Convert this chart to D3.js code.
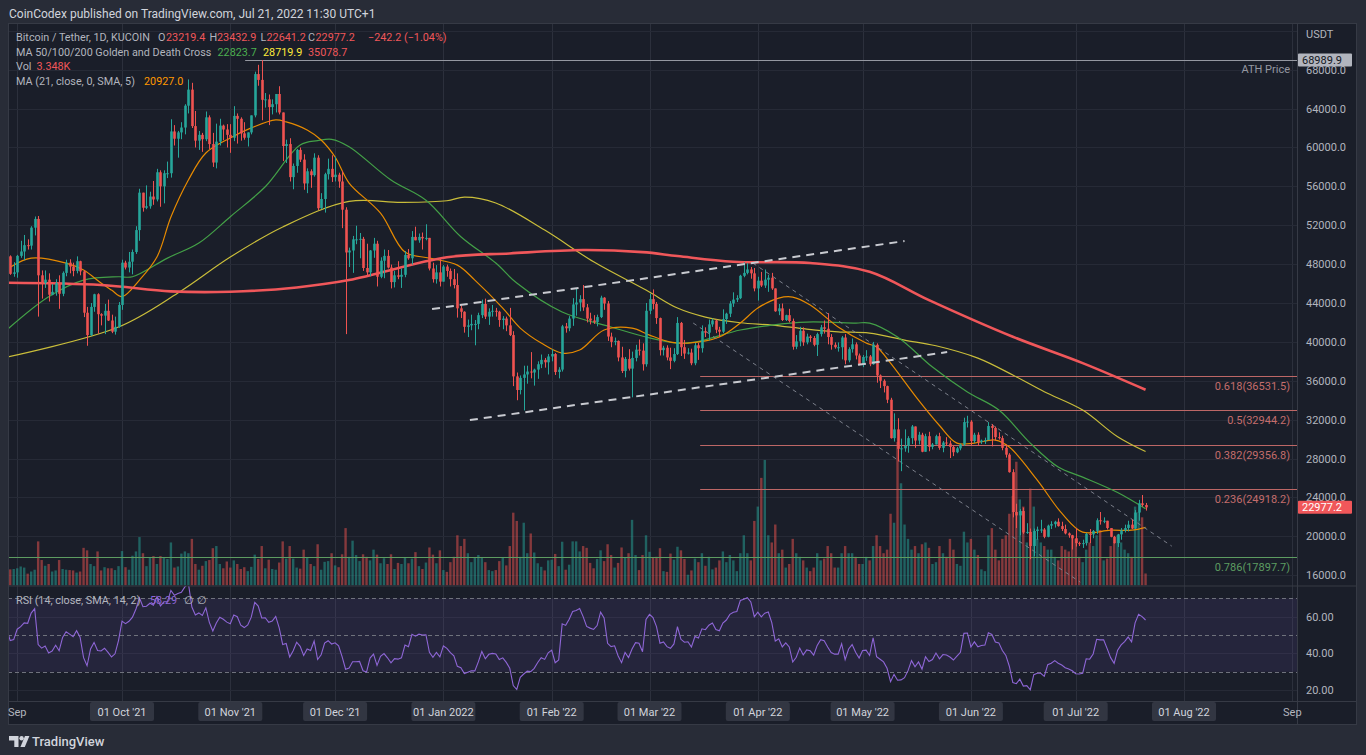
<!DOCTYPE html>
<html><head><meta charset="utf-8">
<script src="https://cdn.jsdelivr.net/npm/d3@7"></script>
<style>
html,body{margin:0;padding:0;background:#282c37;overflow:hidden;}
svg{display:block;font-family:Roboto,"Liberation Sans",sans-serif;}
</style></head><body>
<svg id="c" width="1366" height="755"></svg>
<script>
// ---------------- DATA ----------------
const firstDay = "2021-08-29";
const firstOpen = 48900;
const closes = [
48800,47000,47150,
48850,49300,49950,49900,51750,52650,46850,46050,46400,44850,45150,46050,44950,47100,48150,47750,47300,48300,47250,43000,40700,43600,44900,42850,42700,43200,42200,41050,41550,43800,
48150,47650,48250,49250,51500,55350,53800,53950,54950,54650,57450,56000,57350,57350,61650,60900,61550,62050,64300,65950,62200,60700,61300,60850,63100,60350,58450,60600,62250,61850,61300,
61000,63250,62950,61450,61000,61550,63300,67550,66950,64900,64950,64150,64450,65500,63600,60150,60350,56950,58100,59750,58750,56300,57550,57150,58950,53750,54700,57250,57800,56950,
57200,56500,53600,49200,49400,50550,50550,50600,47600,47150,49400,50100,46700,48350,48850,47650,46150,46850,46700,46900,48950,48600,50800,50450,50800,50650,50700,47550,46450,47150,46200,
47750,47300,46450,45850,43450,43100,41550,41700,41850,41850,42750,43900,42600,43100,43200,43100,42250,42400,41700,40700,36450,35050,36300,36650,36950,36850,37150,37700,38150,37900,38500,
38750,36900,37150,41600,41400,42400,43850,44050,44400,43550,42400,42200,42050,42550,44550,43950,40550,40000,40100,38400,37000,38250,37250,38350,39200,39100,37700,43200,
44400,43900,42450,39150,39400,38400,38050,38750,41950,39450,38800,38900,37800,39650,39350,41100,40950,41800,42200,41250,41050,42350,42900,43950,44350,44500,46800,47100,47450,47050,45500,
46300,45800,46400,46600,45500,43150,43450,42250,42750,42150,39500,40050,41150,39950,40550,40400,39700,40800,41500,41350,40500,39700,39450,39450,40450,38100,39250,39750,38600,37650,
38450,38500,37700,39700,36550,36000,35450,34050,30100,31000,29000,29050,29300,30100,31300,29850,30450,28700,30300,29200,29450,30300,29100,29650,29550,29200,28650,29050,29450,31750,31800,
29800,30450,29700,29850,29900,31350,31150,30200,30100,29100,28400,26600,22500,22150,22600,20400,20450,19000,20550,20700,20700,19950,21100,21250,21500,21050,20750,20300,20100,19800,
19300,19250,19300,20250,20200,20550,21650,21600,21600,20850,19950,19300,20200,20600,20850,21200,20800,22450,23400,23219.4,22977.2
];
const highs = [
49600,48900,48200,
48950,50400,51000,50550,51900,52900,52950,47350,47350,47050,45950,46450,46850,47250,48450,48500,48150,48800,48350,47350,43600,44000,44950,45000,42950,43900,44350,42800,42600,44100,
48450,48350,49250,49500,51900,55750,55350,56100,55450,56550,57800,57650,57650,58550,62900,62300,61700,62600,64450,67000,66650,63750,61700,61500,63700,63300,61500,62450,62950,62350,62400,
62400,64250,63500,63100,62600,61550,63300,67800,68500,68990,65600,65450,64950,65500,66300,63600,60800,60950,58350,59850,60000,59300,57850,57750,59400,59200,55300,57400,58850,59200,
59050,57400,57600,53850,49700,50900,51950,51200,50800,50100,49450,50700,50400,48700,49500,49450,47950,47300,48300,47550,49350,49550,51400,51850,51150,51250,52100,50700,48150,47900,48550,
47900,47950,47550,47500,47050,43750,43150,42300,42800,42250,43000,44350,44450,43450,43800,43500,43200,42650,42600,43500,41100,36850,36550,37550,37550,38950,37250,38000,38700,38350,38750,
39250,38850,37400,41750,41950,42650,44500,45500,44800,45850,43900,43000,42750,42800,44750,44600,44200,40950,40450,40150,39500,38450,39250,39000,39700,40250,39850,44000,
44950,45400,44100,42500,39600,39650,39400,39350,42550,42050,40200,39350,39300,39900,39900,41700,41500,42300,42400,42300,41550,43350,43000,44200,45100,44800,46900,48200,48100,47700,47600,
46700,47200,47450,46900,47100,45500,43900,43950,42800,43400,42400,40700,41550,41500,40850,40700,40600,40950,41750,42200,42950,40800,39950,39950,40600,40800,39450,40350,39950,38800,
38650,39150,38650,40000,39850,36650,36150,35500,34250,32650,32150,30050,31000,30300,31450,31300,30750,30650,30550,30750,29600,30450,30650,29800,30200,29850,29350,29200,29550,32200,32400,
31950,30650,30700,29950,30150,31750,31550,31300,30700,30350,29450,28550,26900,23350,22800,22950,21350,20800,20800,21000,21700,20850,21200,21550,21600,21850,21500,21200,20400,20150,
20850,19450,19650,20350,20750,20650,21850,22500,21950,21600,20850,20050,20250,20850,21200,21600,21700,22700,23750,24250,23432.9
];
const lows = [
48100,46900,46700,
46600,48650,48400,49500,49500,50950,42600,44450,45550,44150,44800,44750,43400,44700,46750,47050,46750,47050,46850,42550,39600,40600,43100,40850,41700,40800,42150,40900,40750,41450,
43300,47450,47150,46950,49050,50400,53400,53650,53700,54100,54450,53900,54250,56850,56900,60200,58950,60850,61350,63500,62000,60000,59750,59550,60650,59850,58000,57850,60200,60750,60000,
59450,60650,60400,60700,60800,60100,61350,63100,66350,62800,64100,62300,63400,63600,63400,58600,58400,56500,55700,57400,58500,55650,55300,55850,57000,53550,53650,53300,56700,56450,
56500,55850,51700,40800,47700,47100,50050,48600,47300,46850,46750,48650,45700,46550,46550,47550,45500,45600,46450,45550,46650,48450,47950,50450,50200,49500,50450,47350,46100,46000,45700,
46200,46700,45700,45500,42500,42450,40950,40500,41200,39650,41300,42450,42350,41750,42600,42600,41550,41300,41100,40600,35450,34000,34600,32950,35700,36250,35500,36200,37300,37350,36650,
38000,36600,36250,36950,40950,41100,41650,42700,43150,43200,42000,41800,41850,41600,42450,43300,40100,39450,39650,38000,36800,36350,37050,34300,38000,38600,37050,37450,
42850,43350,41850,38600,38600,38100,37200,37900,38650,38550,38250,38700,37600,37600,38150,38900,40500,40150,41550,40900,40500,40900,41850,42550,43600,44100,44400,46650,46950,46500,45200,
44250,45650,45550,45150,45350,43100,42750,42150,42150,42000,39200,39250,39550,39600,39750,40000,39550,38550,40550,40850,39750,39200,39300,39000,38200,37700,37900,38900,38200,37600,
37400,38050,37500,37650,35800,35250,34800,33700,30050,29750,27700,26700,28700,28600,29500,29100,29450,28650,28700,28750,28950,29450,28900,28650,29300,28050,28250,28550,28850,29300,31200,
29350,29600,29300,29500,29500,29900,29250,29850,29950,28850,28100,26550,21950,20850,20100,20250,20250,17650,17950,19650,20350,19800,19900,20750,20900,21000,20550,20200,19850,18650,
18950,19000,18800,19050,19300,19800,20250,21200,21350,20700,19900,19250,18900,19650,20400,20500,20750,20750,21600,23050,22641.2
];
// volume in thousands of BTC
const volumes = [
5.1,4.5,4.6,
4.8,5.3,5.0,3.3,3.9,4.4,12.3,7.1,5.5,6.0,3.9,4.2,7.1,4.6,4.4,4.3,4.2,3.6,3.9,10.5,9.8,6.0,5.4,9.5,4.2,5.1,4.8,4.8,4.3,5.4,
9.6,5.1,4.4,8.3,9.5,13.5,9.0,5.4,7.7,8.2,6.0,8.2,7.9,7.4,12.0,5.0,5.3,8.9,9.5,9.0,13.0,6.0,4.4,5.5,6.8,7.1,10.4,11.0,6.0,4.8,6.7,
5.0,7.0,6.0,4.6,5.1,4.0,5.2,8.6,7.4,11.0,4.8,7.2,4.6,4.4,6.4,12.3,7.5,11.0,7.5,5.0,4.7,10.0,7.8,6.0,5.4,11.5,4.4,6.6,6.8,9.0,
5.6,5.1,8.7,16.0,8.0,12.5,8.5,6.8,8.7,8.0,7.0,10.0,8.6,6.2,7.6,6.0,8.7,4.6,6.3,6.0,7.8,6.2,7.5,9.3,5.4,4.6,6.4,10.6,8.6,6.2,9.8,
4.3,3.8,6.5,8.0,14.0,11.0,13.0,9.0,6.5,7.8,8.5,7.8,6.5,4.3,4.0,4.3,6.8,7.8,5.6,11.0,20.3,18.0,8.0,17.5,9.0,14.5,9.2,6.2,5.2,4.2,7.0,
7.2,8.8,5.4,12.2,4.4,5.8,12.3,12.3,9.5,11.0,10.5,6.3,4.8,7.4,9.8,6.8,11.5,8.5,5.0,6.3,10.6,7.7,9.0,18.3,8.5,4.3,8.5,14.0,
9.4,7.8,8.0,10.4,4.0,3.8,8.9,7.2,10.8,9.8,7.4,3.0,4.2,7.5,6.5,9.0,5.5,8.0,4.5,5.0,7.0,9.5,6.5,8.5,7.0,4.0,9.0,14.0,9.0,7.0,18.0,
22.0,30.0,35.0,14.0,12.0,17.0,9.0,10.0,5.0,6.0,13.0,9.0,8.0,7.0,5.0,4.0,5.0,9.0,7.0,7.5,11.0,9.0,5.0,5.0,9.0,11.0,9.0,9.0,8.0,6.0,
6.0,8.0,7.0,11.0,14.0,11.0,9.0,10.0,20.0,17.5,40.0,28.5,17.0,13.0,10.0,11.0,9.0,11.5,12.0,10.5,6.0,6.5,11.0,9.0,8.0,13.0,10.0,6.0,5.5,15.0,12.0,
13.0,10.0,8.5,4.5,4.0,14.0,16.0,10.0,7.0,13.0,14.0,20.0,25.0,34.5,24.0,22.0,12.0,27.0,22.0,13.0,12.0,11.0,10.0,10.0,8.0,7.0,11.0,10.0,9.5,14.0,
13.0,8.0,6.5,10.0,12.0,11.0,14.0,15.5,7.0,7.5,11.0,12.0,14.0,12.0,10.0,9.0,8.0,22.0,20.5,19.0,3.348
];
// closes Aug 13 - Aug 28 2021, used only to start the RSI
const warmupCloses = [47800,47050,47100,45950,44700,44800,46700,49300,48900,49300,49550,47700,48950,46850,49050,48900];

const ma21Pts = [["2021-08-30",47680],["2021-09-05",48620],["2021-09-15",48110],["2021-09-20",47390],["2021-09-25",46050],["2021-09-28",45330],["2021-10-01",44650],["2021-10-06",46360],["2021-10-11",48730],["2021-10-15",52840],["2021-10-20",56650],["2021-10-25",59430],["2021-11-01",60980],["2021-11-07",62010],["2021-11-14",62830],["2021-11-17",62630],["2021-11-23",61800],["2021-11-27",60770],["2021-12-01",59020],["2021-12-05",56340],["2021-12-14",53250],["2021-12-21",49240],["2021-12-28",48620],["2022-01-05",47900],["2022-01-10",46360],["2022-01-18",43480],["2022-01-23",41420],["2022-01-29",39880],["2022-02-04",38850],["2022-02-09",39160],["2022-02-16",41220],["2022-02-24",41420],["2022-03-01",40700],["2022-03-07",39980],["2022-03-12",39880],["2022-03-21",40500],["2022-03-27",41940],["2022-04-01",43480],["2022-04-07",44510],["2022-04-11",44610],["2022-04-16",43790],["2022-04-24",41530],["2022-05-02",39880],["2022-05-05",39470],["2022-05-09",37820],["2022-05-17",34010],["2022-05-23",31400],["2022-05-28",29590],["2022-06-02",29590],["2022-06-08",29900],["2022-06-12",29180],["2022-06-20",25780],["2022-06-27",22380],["2022-07-03",20430],["2022-07-11",20630],["2022-07-17",20630],["2022-07-21",20927]];
const ma50Pts = [["2021-08-29",41220],["2021-09-10",44640],["2021-09-20",46360],["2021-09-30",46700],["2021-10-04",46700],["2021-10-14",48620],["2021-10-23",50170],["2021-11-01",52880],["2021-11-11",55960],["2021-11-21",60250],["2021-11-26",60700],["2021-11-30",60840],["2021-12-05",60080],["2021-12-17",56650],["2021-12-27",54570],["2022-01-06",50820],["2022-01-16",48110],["2022-01-22",46050],["2022-02-04",43070],["2022-02-18",41530],["2022-02-28",40500],["2022-03-09",39880],["2022-03-14",39980],["2022-03-27",41220],["2022-04-05",41730],["2022-04-15",42040],["2022-04-29",41940],["2022-05-03",41930],["2022-05-11",40500],["2022-05-21",37410],["2022-05-31",34840],["2022-06-09",32990],["2022-06-18",29590],["2022-06-26",27120],["2022-07-03",26090],["2022-07-13",24500],["2022-07-21",22824]];
const ma100Pts = [["2021-08-29",38430],["2021-09-30",41530],["2021-10-17",45030],["2021-11-01",48730],["2021-11-16",51820],["2021-12-05",54450],["2021-12-20",54350],["2022-01-02",54520],["2022-01-07",54900],["2022-01-16",54290],["2022-01-30",51500],["2022-02-13",48240],["2022-02-28",45330],["2022-03-09",43480],["2022-03-17",42550],["2022-03-27",41970],["2022-04-05",41730],["2022-04-15",41320],["2022-04-24",41040],["2022-05-03",40900],["2022-05-13",40190],["2022-05-22",39600],["2022-06-03",38330],["2022-06-13",36590],["2022-06-22",34870],["2022-07-03",32990],["2022-07-13",30240],["2022-07-21",28720]];
const ma200Pts = [["2021-08-29",46080],["2021-09-25",45850],["2021-10-15",45200],["2021-11-01",45160],["2021-11-20",45600],["2021-12-05",46360],["2022-01-02",48700],["2022-01-20",49100],["2022-02-10",49450],["2022-02-27",49230],["2022-03-09",48830],["2022-03-25",48250],["2022-04-16",48110],["2022-05-03",47220],["2022-05-20",44300],["2022-06-13",40530],["2022-07-03",37820],["2022-07-21",35079]];

const priceTicks = [16000,20000,24000,28000,32000,36000,40000,44000,48000,52000,56000,60000,64000,68000];
const gridOnlyTicks = [72000];
const rsiTicks = [20,40,60];
const rsiBands = [70,50,30];
const timeTickDates = ["2021-09-01","2021-10-01","2021-11-01","2021-12-01","2022-01-01","2022-02-01","2022-03-01","2022-04-01","2022-05-01","2022-06-01","2022-07-01","2022-08-01","2022-09-01"];
const timeTickLabels = ["Sep","01 Oct '21","01 Nov '21","01 Dec '21","01 Jan 2022","01 Feb '22","01 Mar '22","01 Apr '22","01 May '22","01 Jun '22","01 Jul '22","01 Aug '22","Sep"];
const timeTickBoxed = [false,true,true,true,true,true,true,true,true,true,true,true,false];
const fibRatios = ["0.618","0.5","0.382","0.236","0.786"];
const fibValues = [36531.5,32944.2,29356.8,24918.2,17897.7];
const athPrice = 68989.9;
const lastPrice = 22977.2;
// trend line drawings [date, price]
const channelUpper = [["2021-12-28T18:00:00Z",43380],["2022-05-13T00:00:00Z",50370]];
const channelLower = [["2022-01-08T14:00:00Z",31960],["2022-05-25T05:00:00Z",38950]];
const trendA = [["2022-03-13T12:00:00Z",41940],["2022-07-02T07:00:00Z",15290]];
const trendB = [["2022-03-30T14:00:00Z",48110],["2022-07-28T12:00:00Z",18990]];
const fibStartDate = "2022-03-15T12:00:00Z";
const athStartDate = "2021-11-05T06:00:00Z";

// ---------------- LAYOUT ----------------
const OUTER="#282c37", PANE="#1a1e29", GRID="#262a36", VGRID="#2c303c", TXT="#b2b5be", FRAME="#363a45";
const UP="#26a69a", DN="#ef5350";
const L=8, R=1297.5, AXR=1357, T=23, PB=585.5, RB=701, AB=725;

const svg = d3.select("#c");
svg.append("rect").attr("width",1366).attr("height",755).attr("fill",OUTER);
svg.append("rect").attr("x",L).attr("y",T).attr("width",AXR-L).attr("height",AB-T).attr("fill",PANE);

const parse = s => new Date(s.length>10 ? s : s+"T00:00:00Z");
const x = d3.scaleUtc().domain([parse("2021-09-01"), parse("2022-08-01")]).range([17.2, 1184]);
const y = d3.scaleLinear().domain([16000,68000]).range([575.2, 69.7]);
const yV = d3.scaleLinear().domain([0,40]).range([PB, PB-143.5]);
const yR = d3.scaleLinear().domain([20,70]).range([690.2, 598.4]);

const defs = svg.append("defs");
defs.append("clipPath").attr("id","cp").append("rect").attr("x",L+0.5).attr("y",T).attr("width",R-L-0.5).attr("height",PB-T);
defs.append("clipPath").attr("id","cr").append("rect").attr("x",L+0.5).attr("y",PB+0.5).attr("width",R-L-0.5).attr("height",RB-PB-0.5);

// build bars
const d0 = parse(firstDay);
const bars = closes.map((c,i)=>{
  const date = new Date(d0.getTime()+i*86400000);
  const o = i===0 ? firstOpen : closes[i-1];
  return {date, o, h:highs[i], l:lows[i], c, v:volumes[i]};
});

// grids
const gGrid = svg.append("g");
timeTickDates.forEach(d=>{
  const xx = Math.round(x(parse(d)))+0.5;
  gGrid.append("line").attr("x1",xx).attr("x2",xx).attr("y1",T).attr("y2",RB).attr("stroke",VGRID).attr("stroke-width",1);
});
priceTicks.concat(gridOnlyTicks).forEach(p=>{
  const yy = Math.round(y(p))+0.5;
  if (yy>T && yy<PB) gGrid.append("line").attr("x1",L).attr("x2",R).attr("y1",yy).attr("y2",yy).attr("stroke",GRID);
});
rsiTicks.forEach(v=>{
  const yy = Math.round(yR(v))+0.5;
  gGrid.append("line").attr("x1",L).attr("x2",R).attr("y1",yy).attr("y2",yy).attr("stroke",GRID);
});

// ---------------- PRICE PANE ----------------
const gP = svg.append("g").attr("clip-path","url(#cp)");
// volume
gP.selectAll("rect.v").data(bars).join("rect")
  .attr("x",d=>x(d.date)-1.2).attr("width",2.4)
  .attr("y",d=>yV(d.v)).attr("height",d=>PB-yV(d.v))
  .attr("fill",d=>d.c>=d.o ? "rgba(38,166,154,0.5)" : "rgba(239,83,80,0.5)");

// fib lines
const fibX0 = x(parse(fibStartDate));
fibValues.forEach((v,i)=>{
  const yy = Math.round(y(v))+0.5;
  const green = fibRatios[i]==="0.786";
  gP.append("line").attr("x1", green ? L : fibX0).attr("x2",R).attr("y1",yy).attr("y2",yy)
    .attr("stroke", green ? "#5d9c61" : "#bd6766").attr("stroke-width",1);
});
// ATH line
{
  const yy = Math.round(y(athPrice))+0.5;
  gP.append("line").attr("x1",x(parse(athStartDate))).attr("x2",R).attr("y1",yy).attr("y2",yy).attr("stroke","#9598a1").attr("stroke-width",1);
}

// MA lines
const lineGen = d3.line().x(d=>x(parse(d[0]))).y(d=>y(d[1])).curve(d3.curveCatmullRom.alpha(0.5));
gP.append("path").attr("d",lineGen(ma100Pts)).attr("fill","none").attr("stroke","#c9bd3a").attr("stroke-width",1.2);
gP.append("path").attr("d",lineGen(ma50Pts)).attr("fill","none").attr("stroke","#43a047").attr("stroke-width",1.2);
gP.append("path").attr("d",lineGen(ma21Pts)).attr("fill","none").attr("stroke","#e68a00").attr("stroke-width",1.2);
gP.append("path").attr("d",lineGen(ma200Pts)).attr("fill","none").attr("stroke","#f0575a").attr("stroke-width",2.6);

// trend lines
const seg = (pts, stroke, w, dash) => gP.append("line")
  .attr("x1",x(parse(pts[0][0]))).attr("y1",y(pts[0][1]))
  .attr("x2",x(parse(pts[1][0]))).attr("y2",y(pts[1][1]))
  .attr("stroke",stroke).attr("stroke-width",w).attr("stroke-dasharray",dash);
seg(trendA,"#7b7f8a",1,"4,4");
seg(trendB,"#7b7f8a",1,"4,4");

// candles
const gc = gP.append("g");
gc.selectAll("line.w").data(bars).join("line")
  .attr("x1",d=>Math.round(x(d.date))+0.5).attr("x2",d=>Math.round(x(d.date))+0.5)
  .attr("y1",d=>y(d.h)).attr("y2",d=>y(d.l))
  .attr("stroke",d=>d.c>=d.o?UP:DN).attr("stroke-width",1);
gc.selectAll("rect.b").data(bars).join("rect")
  .attr("x",d=>Math.round(x(d.date))-0.8).attr("width",2.6)
  .attr("y",d=>y(Math.max(d.o,d.c))).attr("height",d=>Math.max(1,Math.abs(y(d.o)-y(d.c))))
  .attr("fill",d=>d.c>=d.o?UP:DN);

seg(channelUpper,"#c8cad0",2,"8,6");
seg(channelLower,"#c8cad0",2,"8,6");

// fib labels
const gT = svg.append("g").attr("font-size",11);
fibValues.forEach((v,i)=>{
  const green = fibRatios[i]==="0.786";
  gT.append("text").attr("x",1290).attr("y",y(v)+14).attr("text-anchor","end")
    .attr("fill", green ? "#5d9c61" : "#c46d6c").text(fibRatios[i]+"("+v.toFixed(1)+")");
});
gT.append("text").attr("x",1290).attr("y",y(athPrice)+13).attr("text-anchor","end").attr("fill","#9598a1").text("ATH Price");

// ---------------- RSI ----------------
const all = warmupCloses.concat(closes.slice(1));
// RSI 14 (Wilder) over closes
let ag=0, al=0;
for(let i=1;i<=14;i++){const ch=all[i]-all[i-1]; if(ch>0) ag+=ch; else al-=ch;}
ag/=14; al/=14;
const rsi = [];
for(let i=15;i<all.length;i++){
  const ch=all[i]-all[i-1];
  ag=(ag*13+Math.max(ch,0))/14; al=(al*13+Math.max(-ch,0))/14;
  const val = al===0?100:100-100/(1+ag/al);
  const bi = i-15; // index into bars (bar 0 = Aug 29)
  rsi.push({date:bars[bi].date, v:val});
}
const gR = svg.append("g").attr("clip-path","url(#cr)");
gR.append("rect").attr("x",L).attr("width",R-L).attr("y",yR(70)).attr("height",yR(30)-yR(70)).attr("fill","rgba(126,87,194,0.12)");
rsiBands.forEach(v=>{
  const yy=Math.round(yR(v))+0.5;
  gR.append("line").attr("x1",L).attr("x2",R).attr("y1",yy).attr("y2",yy).attr("stroke","#6f727c").attr("stroke-dasharray","4,3");
});
gR.append("path").attr("d",d3.line().x(d=>x(d.date)).y(d=>yR(d.v))(rsi)).attr("fill","none").attr("stroke","#8e66d6").attr("stroke-width",1.1);

// ---------------- FRAME ----------------
const fr = svg.append("g").attr("stroke",FRAME).attr("stroke-width",1).attr("fill","none");
fr.append("rect").attr("x",L+0.5).attr("y",T+0.5).attr("width",AXR-L-1).attr("height",AB-T-1);
fr.append("line").attr("x1",R).attr("x2",R).attr("y1",T).attr("y2",AB);
fr.append("line").attr("x1",L).attr("x2",AXR).attr("y1",PB+0.5).attr("y2",PB+0.5);
fr.append("line").attr("x1",L).attr("x2",AXR).attr("y1",RB+0.5).attr("y2",RB+0.5);

// ---------------- AXES ----------------
const gA = svg.append("g").attr("font-size",11).attr("fill",TXT);
gA.append("text").attr("x",1306).attr("y",38).text("USDT");
priceTicks.forEach(p=>{
  gA.append("text").attr("x",1306).attr("y",y(p)+4).text(p.toFixed(1));
});
rsiTicks.forEach(v=>{
  gA.append("text").attr("x",1306).attr("y",yR(v)+4).text(v.toFixed(2));
});
// price boxes
function priceBox(v, bg, fg){
  const yy=y(v);
  svg.append("rect").attr("x",R+0.5).attr("y",yy-6.5).attr("width",54).attr("height",13).attr("rx",1).attr("fill",bg);
  svg.append("text").attr("x",1302).attr("y",yy+4).attr("font-size",11).attr("fill",fg).text(v.toFixed(1));
}
priceBox(athPrice,"#b2b5be","#131722");
priceBox(lastPrice,"#f0575a","#ffffff");

// time axis
timeTickDates.forEach((d,i)=>{
  const xx = x(parse(d));
  if (timeTickBoxed[i]) {
    svg.append("rect").attr("x",xx-32).attr("y",RB+1).attr("width",64).attr("height",19).attr("rx",2).attr("fill","#323642");
  }
  svg.append("text").attr("x",xx).attr("y",715.5).attr("text-anchor","middle").attr("font-size",11)
    .attr("fill", timeTickBoxed[i] ? "#d1d4dc" : TXT).text(timeTickLabels[i]);
});
// cover anything right of the frame
svg.append("rect").attr("x",AXR).attr("y",0).attr("width",1366-AXR).attr("height",755).attr("fill",OUTER);

// ---------------- LEGENDS ----------------
const gL = svg.append("g").attr("font-size",10.8);
svg.append("text").attr("x",9).attr("y",18).attr("font-size",12).attr("fill","#d1d4dc")
  .text("CoinCodex published on TradingView.com, Jul 21, 2022 11:30 UTC+1");
function seq(yy, parts){
  parts.forEach(p=>gL.append("text").attr("x",p[0]).attr("y",yy).attr("fill",p[2]).text(p[1]));
}
const RED="#f0575a";
seq(40.5,[[16,"Bitcoin / Tether, 1D, KUCOIN",TXT],[158,"O",TXT],[166,"23219.4",RED],[209.5,"H",TXT],[217,"23432.9",RED],[260.5,"L",TXT],[266.5,"22641.2",RED],[308,"C",TXT],[315.5,"22977.2",RED],[368,"\u2212242.2 (\u22121.04%)",RED]]);
seq(55.5,[[16,"MA 50/100/200 Golden and Death Cross",TXT],[217.5,"22823.7","#4caf50"],[263,"28719.9","#ffeb3b"],[308,"35078.7",RED]]);
seq(70,[[16,"Vol",TXT],[36.5,"3.348K",RED]]);
seq(85,[[16,"MA (21, close, 0, SMA, 5)",TXT],[144,"20927.0","#ff9800"]]);
seq(604,[[16,"RSI (14, close, SMA, 14, 2)",TXT],[150,"58.29","#8e66d6"],[184,"\u2205",TXT],[197,"\u2205",TXT]]);

// ---------------- FOOTER ----------------
const lg = svg.append("g").attr("fill","#d1d4dc");
lg.append("path").attr("d","M9,736 h9.5 v11 h-4.2 v-6.6 h-5.3 z");
lg.append("circle").attr("cx",21.6).attr("cy",738.3).attr("r",2.2);
lg.append("path").attr("d","M25,736 h4.4 l-4.6,11 h-4.4 z");
svg.append("text").attr("x",32).attr("y",746).attr("font-size",13).attr("font-weight",500).attr("fill","#d1d4dc").text("TradingView");
</script>
</body></html>
